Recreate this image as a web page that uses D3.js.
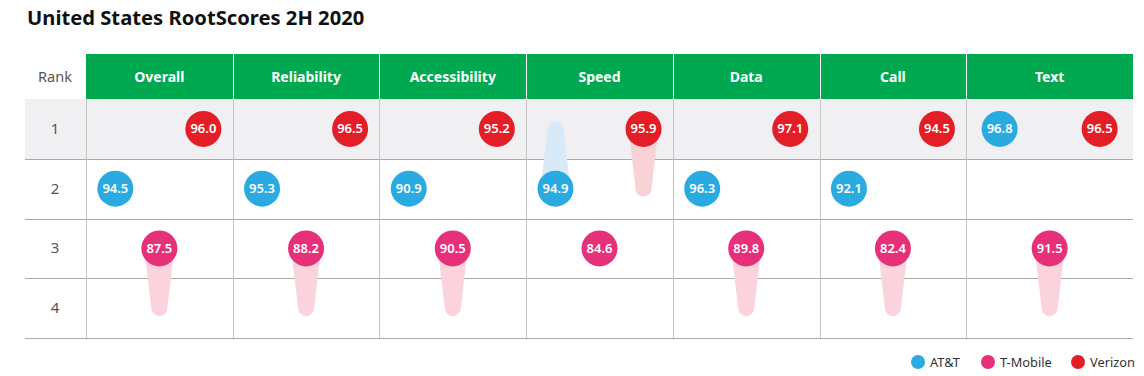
<!DOCTYPE html>
<html lang="en">
  <head>
    <meta charset="UTF-8" />
    <title>United States RootScores 2H 2020</title>
    <style>
      body { margin: 0; background: #fff; }
      text { font-family: 'Noto Sans', 'Open Sans', sans-serif; }
    </style>
  </head>
  <body>
    <script src="https://d3js.org/d3.v7.min.js"></script>
    <svg id="chart" width="1144" height="376"></svg>
    <script>
      const categories = ['Overall', 'Reliability', 'Accessibility', 'Speed', 'Data', 'Call', 'Text'];
      const carriers = ['AT&T', 'T-Mobile', 'Verizon'];
      const ranks = [1, 2, 3, 4];

      const attScores = [94.5, 95.3, 90.9, 94.9, 96.3, 92.1, 96.8];
      const tmoScores = [87.5, 88.2, 90.5, 84.6, 89.8, 82.4, 91.5];
      const vzScores = [96.0, 96.5, 95.2, 95.9, 97.1, 94.5, 96.5];

      const attRanks = [2, 2, 2, 2, 2, 2, 1];
      const tmoRanks = [3, 3, 3, 3, 3, 3, 3];
      const vzRanks = [1, 1, 1, 1, 1, 1, 1];

      // rank in the previous period (draws the fading tail)
      const attPrevRanks = [2, 2, 2, 1, 2, 2, 1];
      const tmoPrevRanks = [4, 4, 4, 3, 4, 4, 4];
      const vzPrevRanks = [1, 1, 1, 2, 1, 1, 1];

      const colors = { 'AT&T': '#29abe2', 'T-Mobile': '#e6307a', 'Verizon': '#e41e26' };
      const tailColors = { 'AT&T': '#d8eaf7', 'T-Mobile': '#fad3dc', 'Verizon': '#f9d2d8' };

      const svg = d3.select('#chart');
      const tLeft = 25, tRight = 1133, tTop = 54, headH = 45, tBottom = 338;

      const x = d3.scaleBand().domain(categories).range([86, 1113]);
      const colW = (c) => (c === categories[categories.length - 1] ? tRight - x(c) : x.bandwidth());
      const y = d3.scaleBand().domain(ranks).range([tTop + headH, tBottom]);
      const inner = d3.scalePoint().domain(carriers).range([0.2, 0.8]);

      const cells = [];
      const series = [
        ['AT&T', attScores, attRanks, attPrevRanks],
        ['T-Mobile', tmoScores, tmoRanks, tmoPrevRanks],
        ['Verizon', vzScores, vzRanks, vzPrevRanks],
      ];
      series.forEach(([carrier, scores, rk, prev]) => {
        categories.forEach((c, i) => {
          cells.push({ carrier, category: c, score: scores[i], rank: rk[i], prev: prev[i] });
        });
      });

      // title
      svg.append('text')
        .attr('x', 27).attr('y', 25)
        .attr('font-size', 20.2).attr('font-weight', 700).attr('fill', '#111')
        .text('United States RootScores 2H 2020');

      // header
      svg.append('rect')
        .attr('x', 86).attr('y', tTop).attr('width', tRight - 86).attr('height', headH)
        .attr('fill', '#00a94f');
      svg.append('text')
        .attr('x', 55).attr('y', tTop + headH / 2 + 5)
        .attr('text-anchor', 'middle').attr('font-size', 14.5).attr('fill', '#555')
        .text('Rank');
      svg.selectAll('.head')
        .data(categories)
        .enter()
        .append('text')
        .attr('class', 'head')
        .attr('x', (d) => x(d) + colW(d) / 2)
        .attr('y', tTop + headH / 2 + 5)
        .attr('text-anchor', 'middle').attr('font-size', 14).attr('font-weight', 700)
        .attr('fill', '#fff')
        .text((d) => d);
      svg.selectAll('.headsep')
        .data(categories.slice(1))
        .enter()
        .append('line')
        .attr('x1', (d) => Math.round(x(d)) + 0.5).attr('x2', (d) => Math.round(x(d)) + 0.5)
        .attr('y1', tTop).attr('y2', tTop + headH)
        .attr('stroke', '#fff').attr('stroke-width', 1);

      // first row background
      svg.append('rect')
        .attr('x', tLeft).attr('y', y(1)).attr('width', tRight - tLeft).attr('height', y.bandwidth())
        .attr('fill', '#f0f0f2');

      // grid
      svg.selectAll('.hline')
        .data(ranks)
        .enter()
        .append('line')
        .attr('x1', tLeft).attr('x2', tRight)
        .attr('y1', (d) => Math.round(y(d) + y.bandwidth()) + 0.5)
        .attr('y2', (d) => Math.round(y(d) + y.bandwidth()) + 0.5)
        .attr('stroke', '#a8a8a8');
      svg.selectAll('.vline')
        .data(categories)
        .enter()
        .append('line')
        .attr('x1', (d) => Math.round(x(d)) + 0.5).attr('x2', (d) => Math.round(x(d)) + 0.5)
        .attr('y1', tTop + headH).attr('y2', tBottom)
        .attr('stroke', '#c4c4c4');

      // rank labels
      svg.selectAll('.rank')
        .data(ranks)
        .enter()
        .append('text')
        .attr('class', 'rank')
        .attr('x', 55)
        .attr('y', (d) => y(d) + y.bandwidth() / 2 + 5)
        .attr('text-anchor', 'middle').attr('font-size', 15).attr('fill', '#555')
        .text((d) => d);

      const cx = (d) => x(d.category) + colW(d.category) * inner(d.carrier);
      const cy = (r) => y(r) + y.bandwidth() / 2;
      const R = 18, w1 = 15, w2 = 8;

      // tails from previous rank
      svg.selectAll('.tail')
        .data(cells.filter((d) => d.prev !== d.rank))
        .enter()
        .append('path')
        .attr('class', 'tail')
        .attr('fill', (d) => tailColors[d.carrier])
        .attr('d', (d) => {
          const x0 = cx(d), y0 = cy(d.rank), y1 = cy(d.prev);
          const sweep = y1 > y0 ? 0 : 1;
          return `M${x0 - w1},${y0} L${x0 - w2},${y1} A${w2},${w2} 0 0 ${sweep} ${x0 + w2},${y1} L${x0 + w1},${y0} Z`;
        });

      const dots = svg.selectAll('.dot')
        .data(cells)
        .enter()
        .append('g')
        .attr('class', 'dot')
        .attr('transform', (d) => `translate(${cx(d)},${cy(d.rank)})`);
      dots.append('circle').attr('r', R).attr('fill', (d) => colors[d.carrier]);
      dots.append('text')
        .attr('y', 4.5)
        .attr('text-anchor', 'middle').attr('font-size', 13).attr('font-weight', 600)
        .attr('fill', '#fff')
        .text((d) => d.score.toFixed(1));

      // legend
      const legendX = [918, 988, 1078];
      const legend = svg.selectAll('.legend')
        .data(carriers)
        .enter()
        .append('g')
        .attr('class', 'legend')
        .attr('transform', (d, i) => `translate(${legendX[i]},362)`);
      legend.append('circle').attr('r', 7).attr('fill', (d) => colors[d]);
      legend.append('text')
        .attr('x', 12).attr('y', 5)
        .attr('font-size', 12.8).attr('fill', '#333')
        .text((d) => d);
    </script>
  </body>
</html>
